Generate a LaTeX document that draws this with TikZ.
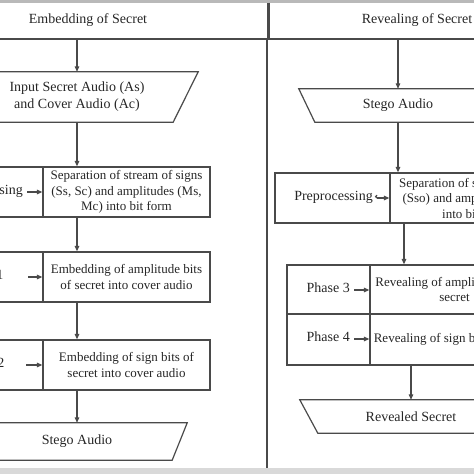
\documentclass[tikz,border=0pt]{standalone}
\usepackage{fontspec}
\setmainfont{Liberation Serif}
\usetikzlibrary{arrows.meta}
\definecolor{ln}{HTML}{4A4A4A}
\definecolor{tx}{HTML}{262626}
\tikzset{
  line/.style={draw=ln, line width=1.2pt},
  arr/.style={line, -{Triangle[length=5.5pt,width=4.5pt]}},
  bx/.style={line, rectangle, minimum height=50pt, inner sep=0pt, align=center, text=tx, font=\fontsize{13}{15.5}\selectfont},
  lblbox/.style={line, rectangle, inner sep=0pt},
  lbl/.style={text=tx, font=\fontsize{14}{17}\selectfont, inner sep=0pt},
  para/.style={rectangle, inner sep=0pt, align=center, text=tx, font=\fontsize{14}{17}\selectfont},
  hdr/.style={text=tx, font=\fontsize{14}{17}\selectfont, inner sep=0pt},
}
\begin{document}
\begin{tikzpicture}[x=1pt,y=-1pt]
\useasboundingbox (0,0) rectangle (474,474);
\clip (0,0) rectangle (474,474);
\fill[gray!55] (0,0) rectangle (474,2.5);
\fill[gray!30] (0,468) rectangle (474,474);
% frame lines
\draw[line] (0,39) -- (474,39);
\draw[line, line width=2.2pt] (268.5,2.5) -- (268.5,39);
\draw[line] (267,39) -- (267,468);
% headers
\node[hdr] (hL) at (88,20) {Embedding of Secret};
\node[hdr] (hR) at (417,20) {Revealing of Secret};
\coordinate (aL) at (77,39);
\coordinate (aR) at (398,39);
\coordinate (xR2) at (404,0);
\coordinate (xR3) at (411,0);

% ---------- left panel ----------
\node[para, minimum width=217pt, minimum height=50pt] (inL) at (77,97) {Input Secret Audio (As)\\and Cover Audio (Ac)};
\draw[line] ([xshift=12.5pt]inL.north west) -- ([xshift=12.5pt]inL.north east) -- ([xshift=-12.5pt]inL.south east) -- ([xshift=-12.5pt]inL.south west) -- cycle;

\node[lblbox, minimum width=120pt, minimum height=50pt] (preL) at (-17,192) {};
\node[bx, minimum width=167pt] (sepL) at (126.5,192) {Separation of stream of signs\\(Ss, Sc) and amplitudes (Ms,\\Mc) into bit form};
\node[lbl, anchor=mid east] (preLt) at (23,192) {Preprocessing};

\node[lblbox, minimum width=120pt, minimum height=50pt] (ph1L) at (-17,277) {};
\node[bx, minimum width=167pt] (embL1) at (126.5,277) {Embedding of amplitude bits\\of secret into cover audio};
\node[lbl, anchor=mid east] (ph1Lt) at (3.5,277) {Phase 1};

\node[lblbox, minimum width=120pt, minimum height=50pt] (ph2L) at (-17,365) {};
\node[bx, minimum width=167pt] (embL2) at (126.5,365) {Embedding of sign bits of\\secret into cover audio};
\node[lbl, anchor=mid east] (ph2Lt) at (4.5,365) {Phase 2};

\node[para, minimum width=205pt, minimum height=37pt] (outL) at (77,441.5) {Stego Audio};
\draw[line] ([xshift=7.5pt]outL.north west) -- ([xshift=7.5pt]outL.north east) -- ([xshift=-7.5pt]outL.south east) -- ([xshift=-7.5pt]outL.south west) -- cycle;

\draw[arr] (aL) -- (inL.north);
\draw[arr] (inL.south) -- (inL.south |- sepL.north);
\draw[arr] (sepL.south -| aL) -- (embL1.north -| aL);
\draw[arr] (embL1.south -| aL) -- (embL2.north -| aL);
\draw[arr] (embL2.south -| aL) -- (outL.north);
\draw[arr, shorten <=4pt] (preLt.mid east) -- (preLt.mid east -| sepL.west);
\draw[arr, shorten <=24.5pt] (ph1Lt.mid east) -- (ph1Lt.mid east -| embL1.west);
\draw[arr, shorten <=21.5pt] (ph2Lt.mid east) -- (ph2Lt.mid east -| embL2.west);

% ---------- right panel ----------
\node[para, minimum width=182pt, minimum height=33pt] (inR) at (398,105.5) {Stego Audio};
\draw[line] ([xshift=-8pt]inR.north west) -- ([xshift=-8pt]inR.north east) -- ([xshift=8pt]inR.south east) -- ([xshift=8pt]inR.south west) -- cycle;

\node[lblbox, minimum width=115pt, minimum height=50pt] (preR) at (332.5,198) {};
\node[bx, minimum width=170pt] (sepR) at (475,198) {Separation of stream of signs\\(Sso) and amplitudes (Mso)\\into bit form};
\node[lbl, anchor=mid east] (preRt) at (373,198) {Preprocessing};

\node[lblbox, minimum width=83pt, minimum height=49pt] (ph3R) at (328.5,289.5) {};
\node[bx, minimum width=169pt, minimum height=49pt] (rv3) at (454.5,289.5) {Revealing of amplitude bits of\\secret};
\node[lbl, anchor=mid east] (ph3Rt) at (350,290) {Phase 3};

\node[lblbox, minimum width=83pt, minimum height=51pt] (ph4R) at (328.5,339.5) {};
\node[bx, minimum width=169pt, minimum height=51pt] (rv4) at (454.5,339.5) {Revealing of sign bits of secret};
\node[lbl, anchor=mid east] (ph4Rt) at (350,339) {Phase 4};

\node[para, minimum width=204pt, minimum height=33pt] (outR) at (411,416.5) {Revealed Secret};
\draw[line] ([xshift=-9pt]outR.north west) -- ([xshift=-9pt]outR.north east) -- ([xshift=9pt]outR.south east) -- ([xshift=9pt]outR.south west) -- cycle;

\draw[arr] (aR) -- (inR.north);
\draw[arr] (inR.south) -- (inR.south |- sepR.north);
\draw[arr] (sepR.south -| xR2) -- (rv3.north -| xR2);
\draw[arr] (rv4.south -| xR3) -- (outR.north);
\draw[line, {Hooks[right,length=2pt]}-{Triangle[length=5.5pt,width=4.5pt]}, shorten <=2pt] (preRt.mid east) -- (preRt.mid east -| sepR.west);
\draw[arr, shorten <=4pt] (ph3Rt.mid east) -- (ph3Rt.mid east -| rv3.west);
\draw[arr, shorten <=4pt] (ph4Rt.mid east) -- (ph4Rt.mid east -| rv4.west);
\end{tikzpicture}
\end{document}
